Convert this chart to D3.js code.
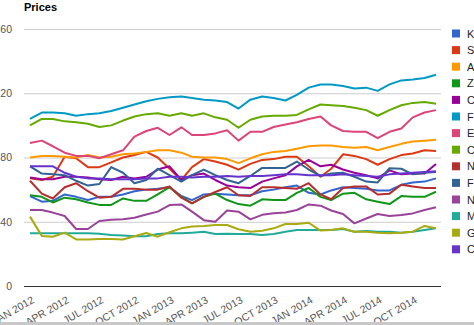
<!DOCTYPE html>
<html>
<head>
<meta charset="utf-8">
<script src="https://cdn.jsdelivr.net/npm/d3@7"></script>
<style>
  html, body { margin: 0; padding: 0; background: #fff; overflow: hidden; }
  svg { display: block; font-family: "Liberation Sans", Arial, sans-serif; }
  svg text { font-family: "Liberation Sans", Arial, sans-serif; }
</style>
</head>
<body>
<svg id="chart" width="474" height="325"></svg>
<script>
// Monthly observations, Jan 2012 .. Dec 2014
const months = [
  "2012-01","2012-02","2012-03","2012-04","2012-05","2012-06","2012-07","2012-08","2012-09","2012-10","2012-11","2012-12",
  "2013-01","2013-02","2013-03","2013-04","2013-05","2013-06","2013-07","2013-08","2013-09","2013-10","2013-11","2013-12",
  "2014-01","2014-02","2014-03","2014-04","2014-05","2014-06","2014-07","2014-08","2014-09","2014-10","2014-11","2014-12"
];

// Quarterly axis ticks
const tickMonths = ["2012-01","2012-04","2012-07","2012-10","2013-01","2013-04","2013-07","2013-10","2014-01","2014-04","2014-07","2014-10"];
const yTicks = [0, 40, 80, 120, 160];

// Legend names and series colours
const seriesNames = ["K", "S", "A", "Z", "C", "F", "E", "C", "N", "F", "N", "M", "G", "C"];
const seriesColors = ["#3366cc", "#dc3912", "#ff9900", "#109618", "#990099", "#0099c6", "#dd4477",
                      "#66aa00", "#b82e2e", "#316395", "#994499", "#22aa99", "#aaaa11", "#6633cc"];

// Series values
const sK = [56, 52.5, 53, 57, 55.5, 53.5, 55.5, 55.5, 57, 59, 60, 60.5, 61.5, 56, 53.5, 57, 57.5, 57, 56.5, 56.5, 59, 60, 61.5, 62.5, 58, 57, 59.5, 61.5, 61, 60.5, 59.5, 59.5, 63, 64.5, 65, 67];
const sS = [67, 66, 68, 80.5, 79.5, 74, 74, 77, 80, 81.5, 83.5, 80, 73, 66, 74, 79, 77.5, 75.5, 72.5, 76, 78.5, 79, 80.5, 80.5, 74.5, 68, 73, 82, 81, 79, 75.5, 79, 81.5, 82.5, 84.5, 84];
const sA = [80, 81, 81, 80.5, 80, 81.5, 80, 80.5, 82, 82.5, 83.5, 84.5, 84.5, 83, 80.5, 80, 80, 79, 76.5, 79.5, 82, 83.5, 84, 85.5, 87, 87.5, 87.5, 86.5, 86, 86.5, 84.5, 86.5, 88.5, 90, 90.5, 91];
const sZ = [56.5, 55.5, 52, 55, 54, 52, 50.5, 50.5, 54.5, 53, 53, 57, 61.5, 55.5, 51.5, 55.5, 57.5, 53.5, 51, 50, 54, 53.5, 53.5, 58, 61, 55.5, 53.5, 57.5, 58, 54, 52.5, 51, 56, 55.5, 55.5, 58.7];
const sC1 = [67.5, 66.5, 66.5, 68, 68, 67.5, 66.5, 66, 68, 67, 68, 72.5, 74.5, 66, 69, 70, 66, 62.5, 61.5, 61, 65, 67, 69, 74.5, 78.5, 74.5, 75.5, 72.5, 70.5, 69, 67, 72, 69.5, 70, 70, 76];
const sF1 = [104, 108, 108, 107.5, 106, 107, 107.5, 109, 111, 113, 115, 116.5, 117.5, 118, 117, 116, 115.5, 114.5, 110.5, 116, 118, 117, 115.5, 119, 123.5, 125.5, 125.5, 124.5, 123, 123.5, 121.5, 125.5, 128, 128.5, 129.5, 131.5];
const sE = [89, 90.5, 87, 83, 81, 81, 79.5, 82, 84.5, 93, 96.5, 98.5, 94, 98.8, 94, 94, 95, 97, 90.5, 96, 96, 99, 100.5, 102, 104, 105.5, 100, 96.5, 96, 96, 92, 96, 98, 105, 108, 109.5];
const sC2 = [100, 104, 104, 102.5, 102, 101, 99, 100, 103, 105.5, 107, 107.5, 106, 107.5, 106, 107.5, 105, 103.5, 98.5, 103.5, 105.5, 106, 106, 106.5, 110, 113, 112.5, 112, 111, 109.5, 106, 109.5, 112.5, 114, 114.5, 113.5];
const sN1 = [65.5, 57.5, 54.5, 61.5, 64, 59, 55, 55.5, 60.5, 60.5, 60, 60, 62, 55, 51.5, 55.5, 58.5, 61.5, 56.5, 56, 61.5, 61.5, 61, 60.5, 64, 57, 54, 61, 62, 62, 57, 57.5, 63, 62, 61, 61];
const sF2 = [74.5, 70, 69.5, 69, 65.5, 62.5, 63.5, 74, 70.5, 64, 66, 73, 69, 65, 69, 72.5, 69, 66, 64, 68.5, 73.5, 73.5, 73.5, 77.5, 72.5, 68.5, 70, 70.5, 68, 65, 64.5, 73.3, 73, 69.5, 70.5, 71];
const sN2 = [47.3, 47.3, 45.7, 43.6, 35.5, 35.5, 40.5, 41.3, 41.5, 42.5, 44.5, 46.3, 50.4, 50.8, 46.3, 41, 40, 47, 46.3, 41.5, 44.3, 45.3, 45.7, 47.3, 50.8, 50, 47, 44.8, 39, 42, 44.8, 43.6, 44.2, 45.2, 47.3, 49];
const sM = [32.8, 32.8, 32.8, 32.8, 32.8, 32.8, 32.5, 31.8, 31.5, 31, 31, 32.4, 32.8, 32.8, 33.2, 33.8, 32.4, 32.6, 32.4, 32.4, 31.8, 32.4, 33.8, 34.8, 34.8, 34.8, 34.9, 35.5, 33.8, 34.3, 33.8, 33.8, 33.2, 33.8, 34.9, 35.9];
const sG = [43.2, 31.2, 30.7, 33.2, 29, 29, 29.3, 29.3, 29, 31, 33, 30.7, 33.5, 35.9, 37, 37.4, 38, 38, 35.3, 33.8, 34.4, 35.9, 38.6, 38.6, 39.4, 34.5, 34.9, 35.9, 33.8, 33.8, 33.2, 32.8, 33.2, 33.8, 37.4, 35.9];
const sC3 = [74.5, 74.5, 74.5, 70.5, 68, 67, 67, 66.5, 66.5, 66.5, 67, 67, 68, 68, 67.5, 68, 68, 68.5, 68, 68.5, 68.5, 69, 69.5, 69.5, 69, 69, 69, 69.5, 69, 68.5, 68, 69.5, 70, 70.5, 71, 71.5];

const seriesValues = [sK, sS, sA, sZ, sC1, sF1, sE, sC2, sN1, sF2, sN2, sM, sG, sC3];

const parseMonth = d3.timeParse("%Y-%m");
const dates = months.map(parseMonth);
const monthFmt = d3.timeFormat("%b %Y");

const svg = d3.select("#chart");

// Plot area
const plotLeft = 24, plotRight = 441, plotTop = 29, plotBottom = 286;

const x = d3.scaleTime()
  .domain([dates[0], dates[dates.length - 1]])
  .range([30, 436]);

const y = d3.scaleLinear()
  .domain([0, 160])
  .range([plotBottom, plotTop]);

// Title
svg.append("text")
  .attr("x", 24).attr("y", 11)
  .attr("font-size", 11).attr("font-weight", "bold")
  .attr("fill", "#000")
  .text("Prices");

// Value axis with gridlines; the labels sit tight against the left edge
const yAxis = svg.append("g")
  .attr("transform", `translate(${plotLeft},0)`)
  .call(d3.axisLeft(y).tickValues(yTicks).tickSize(-(plotRight - plotLeft)).tickPadding(12).tickFormat(d3.format("d")));
yAxis.attr("font-family", null);
yAxis.select(".domain").remove();
yAxis.selectAll(".tick line").attr("stroke", "#cccccc").attr("stroke-width", 1);
yAxis.selectAll(".tick text").attr("font-size", 10.5).attr("fill", "#555");

// Series lines
const line = d3.line()
  .x((d, i) => x(dates[i]))
  .y(d => y(d));

svg.append("g")
  .selectAll("path")
  .data(seriesValues)
  .join("path")
  .attr("d", d => line(d))
  .attr("fill", "none")
  .attr("stroke", (d, i) => seriesColors[i])
  .attr("stroke-width", 2)
  .attr("stroke-linejoin", "round");

// Baseline
svg.append("line")
  .attr("x1", plotLeft).attr("x2", plotRight)
  .attr("y1", plotBottom + 0.5).attr("y2", plotBottom + 0.5)
  .attr("stroke", "#333").attr("stroke-width", 1);

// Slanted date labels
const tickDates = tickMonths.map(parseMonth);
svg.append("g")
  .selectAll("text")
  .data(tickDates)
  .join("text")
  .attr("transform", d => `translate(${x(d) + 5},${plotBottom + 16}) rotate(-30)`)
  .attr("text-anchor", "end")
  .attr("font-size", 10.5)
  .attr("fill", "#555")
  .text(d => monthFmt(d).toUpperCase());

// Legend
const legend = svg.append("g")
  .selectAll("g")
  .data(seriesNames)
  .join("g")
  .attr("transform", (d, i) => `translate(452,${33.5 + i * 16.6})`);
legend.append("rect")
  .attr("x", 0).attr("y", -4).attr("width", 8).attr("height", 8)
  .attr("fill", (d, i) => seriesColors[i]);
legend.append("text")
  .attr("x", 15).attr("y", 4)
  .attr("font-size", 11).attr("fill", "#222")
  .text(d => d);

// Bottom frame strip
svg.append("rect")
  .attr("x", 0).attr("y", 322).attr("width", 474).attr("height", 3)
  .attr("fill", "#c8c8c8");
</script>
</body>
</html>
